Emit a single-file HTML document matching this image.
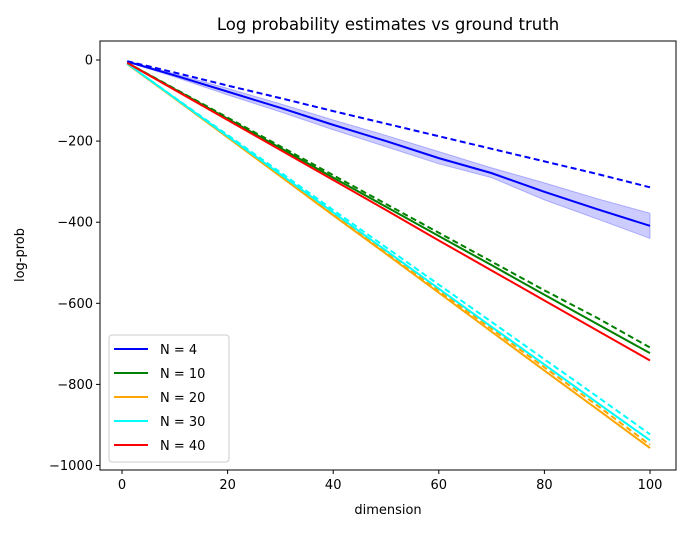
<!DOCTYPE html>
<html><head><meta charset="utf-8"><style>
body{margin:0;background:#fff;font-family:"Liberation Sans","DejaVu Sans",sans-serif;}
svg text{font-family:"DejaVu Sans","Liberation Sans",sans-serif;}
</style></head><body>
<svg id="chart" width="690" height="533" xmlns="http://www.w3.org/2000/svg"></svg>
<script>
const dims = [1,10,20,30,40,50,60,70,80,90,100];
const n4Est = [-4,-38,-78,-118,-160,-200,-242,-279,-325,-368,-409];
const n4Lo = [-5,-42,-86,-128,-172,-214,-256,-290,-345,-392,-440];
const n4Hi = [-3,-34,-70,-108,-148,-186,-226,-266,-303,-342,-378];
const n4True = [-3,-31,-63,-94,-126,-157,-188,-219,-250,-281,-314];
const n10Est = [-7,-72,-145,-217,-290,-362,-434,-506,-579,-651,-723];
const n10True = [-7,-71,-142,-213,-284,-355,-426,-497,-568,-636,-709];
const n20Est = [-10,-95,-191,-287,-383,-478,-574,-670,-766,-861,-957];
const n20True = [-9,-95,-190,-284,-379,-474,-569,-663,-758,-852,-949];
const n30Est = [-9,-94,-188,-282,-376,-470,-564,-658,-751,-845,-938];
const n30True = [-9,-93,-185,-277,-370,-462,-554,-646,-738,-830,-923];
const n40Est = [-7,-74,-148,-222,-296,-370,-445,-519,-593,-667,-741];
const labels = ["N = 4","N = 10","N = 20","N = 30","N = 40"];
const colors = ["#0000ff","#008000","#ffa500","#00ffff","#ff0000"];
const xTicks = [0,20,40,60,80,100];
const yTicks = [0,-200,-400,-600,-800,-1000];

const NS="http://www.w3.org/2000/svg";
const svg=document.getElementById('chart');
const X=v=>122+(v-0)*5.28;
const Y=v=>60-v*0.4055;
function mk(tag,attrs,parent){const e=document.createElementNS(NS,tag);for(const k in attrs)e.setAttribute(k,attrs[k]);(parent||svg).appendChild(e);return e;}
let pts=dims.map((d,i)=>X(d)+','+Y(n4Hi[i])).concat(dims.slice().reverse().map((d,i)=>X(d)+','+Y(n4Lo[dims.length-1-i])));
const band=mk('polygon',{points:pts.join(' '),fill:'#0000ff','fill-opacity':0.2,stroke:'#0000ff','stroke-opacity':0.25});


function line(arr,col,dash,name){const p=mk('polyline',{points:dims.map((d,i)=>X(d)+','+Y(arr[i])).join(' '),fill:'none',stroke:col,'stroke-width':2,'stroke-dasharray':dash?'6,3.5':'none'});

}
line(n4True,colors[0],true,'n4-ground-truth');
line(n10True,colors[1],true,'n10-ground-truth');
line(n30True,colors[3],true,'n30-ground-truth');
line(n20True,colors[2],true,'n20-ground-truth');
line(n4Est,colors[0],false,'n4-estimate');
line(n10Est,colors[1],false,'n10-estimate');
line(n20Est,colors[2],false,'n20-estimate');
line(n30Est,colors[3],false,'n30-estimate');
line(n40Est,colors[4],false,'n40-estimate');
const fr=mk('rect',{x:100,y:41,width:576,height:429,fill:'none',stroke:'#000','stroke-width':1});


xTicks.forEach(t=>{mk('line',{x1:X(t),x2:X(t),y1:470,y2:474,stroke:'#000'});
const tx=mk('text',{x:X(t),y:489,'text-anchor':'middle','font-size':13});tx.textContent=t;

});
yTicks.forEach(t=>{mk('line',{x1:96,x2:100,y1:Y(t),y2:Y(t),stroke:'#000'});
const tx=mk('text',{x:93,y:Y(t)+4.5,'text-anchor':'end','font-size':13});tx.textContent=String(t).replace('-','\u2212');

});
const tt=mk('text',{x:388,y:30,'text-anchor':'middle','font-size':16.5});tt.textContent='Log probability estimates vs ground truth';


const xl=mk('text',{x:388,y:514,'text-anchor':'middle','font-size':13});xl.textContent='dimension';


const yl=mk('text',{x:24,y:255,'text-anchor':'middle','font-size':13,transform:'rotate(-90 24 255)'});yl.textContent='log-prob';


const lg=mk('g',{});


mk('rect',{x:109,y:335,width:120,height:127,rx:3,fill:'#fff','fill-opacity':0.8,stroke:'#ccc'},lg);
labels.forEach((l,i)=>{const yy=349+i*24;
const g=mk('g',{},lg);


mk('line',{x1:114,x2:148,y1:yy,y2:yy,stroke:colors[i],'stroke-width':2},g);
const t=mk('text',{x:160,y:yy+5,'font-size':13},g);t.textContent=l;});
</script>
</body></html>
